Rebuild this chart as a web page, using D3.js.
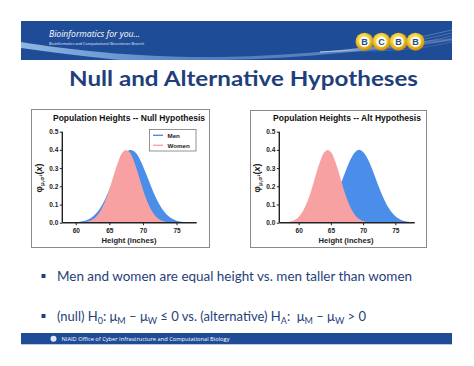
<!DOCTYPE html>
<html><head><meta charset="utf-8">
<script src="https://cdn.jsdelivr.net/npm/d3@7"></script>
<style>body{margin:0;background:#fff}svg{display:block}</style>
</head><body>
<script>
// ---------- data ----------
const heights = [57,57.5,58,58.5,59,59.5,60,60.5,61,61.5,62,62.5,63,63.5,64,64.5,65,65.5,66,66.5,67,67.5,68,68.5,69,69.5,70,70.5,71,71.5,72,72.5,73,73.5,74,74.5,75,75.5,76,76.5,77,77.5,78];
const womenNull = [0,0,0,0,0,0.0001,0.0004,0.0009,0.002,0.0044,0.0091,0.018,0.032,0.054,0.087,0.13,0.183,0.243,0.302,0.353,0.388,0.4,0.388,0.353,0.302,0.243,0.183,0.13,0.087,0.054,0.032,0.018,0.0091,0.0044,0.002,0.0009,0.0004,0.0001,0,0,0,0,0];
const menNull = [0,0.0001,0.0001,0.0003,0.0006,0.0012,0.0023,0.0042,0.0074,0.0127,0.0208,0.0329,0.05,0.073,0.103,0.14,0.182,0.228,0.276,0.32,0.358,0.385,0.399,0.397,0.381,0.351,0.312,0.266,0.219,0.173,0.132,0.097,0.068,0.046,0.03,0.019,0.011,0.0066,0.0037,0.002,0.001,0.0005,0.0002];
const womenAlt = [0.0004,0.0009,0.002,0.0044,0.0091,0.018,0.032,0.054,0.087,0.13,0.183,0.243,0.302,0.353,0.388,0.4,0.388,0.353,0.302,0.243,0.183,0.13,0.087,0.054,0.032,0.018,0.0091,0.0044,0.002,0.0009,0.0004,0.0001,0,0,0,0,0,0,0,0,0,0,0];
const menAlt = [0,0,0,0,0.0001,0.0002,0.0004,0.0009,0.0018,0.0033,0.0059,0.0103,0.0172,0.0275,0.0425,0.063,0.09,0.124,0.164,0.21,0.257,0.303,0.344,0.376,0.395,0.4,0.389,0.364,0.329,0.285,0.238,0.191,0.148,0.11,0.079,0.054,0.036,0.023,0.014,0.0083,0.0047,0.0026,0.0014];
const yTicks = [0,0.1,0.2,0.3,0.4,0.5];
const xTicks = [60,65,70,75];
const seriesNames = ["Men","Women"];
const chartTitles = ["Population Heights -- Null Hypothesis","Population Heights -- Alt Hypothesis"];
const xTitle = "Height (inches)";
const slideTitle = "Null and Alternative Hypotheses";
const bullet1 = "Men and women are equal height vs. men taller than women";

const BLUE = "#4a8eea", PINK = "#f7a1a3", NAVY = "#1f3f7a", BAND = "#1f4c96";
const AF = "Liberation Sans, Arial, sans-serif";

const svg = d3.select("body").append("svg").attr("width",474).attr("height",366);
const defs = svg.append("defs");

// ---------- header ----------
const hg = defs.append("linearGradient").attr("id","wave").attr("x1","0").attr("x2","1");
hg.append("stop").attr("offset","0").attr("stop-color","#9cc3ee").attr("stop-opacity",0.9);
hg.append("stop").attr("offset","0.45").attr("stop-color","#6fa0dc").attr("stop-opacity",0.6);
hg.append("stop").attr("offset","1").attr("stop-color","#ffffff").attr("stop-opacity",0.15);
svg.append("rect").attr("x",21).attr("y",21).attr("width",431).attr("height",39).attr("fill",BAND);
svg.append("path").attr("d","M21,42 C70,50 140,58 220,57 C300,56 380,46 452,38 L452,41 C380,49 300,59 220,60 L120,60 C80,56 50,52 21,48 Z").attr("fill","url(#wave)");
const lines = [[36,0.5],[39,0.45],[42,0.4],[45,0.35],[48,0.3]];
lines.forEach(([yy,o])=>{
  svg.append("path").attr("d",`M320,52 C360,50 400,${yy+6} 452,${yy-6}`).attr("fill","none").attr("stroke","#cfe0f7").attr("stroke-opacity",o).attr("stroke-width",0.6);
});
svg.append("text").attr("x",49).attr("y",37).attr("fill","#fff").attr("font-family","Open Sans, sans-serif").attr("font-style","italic").attr("font-size",9.5).attr("textLength",91).attr("lengthAdjust","spacingAndGlyphs").text("Bioinformatics for you...");
svg.append("text").attr("x",49).attr("y",44.5).attr("fill","#e8eefa").attr("font-family","Open Sans, sans-serif").attr("font-size",3.4).attr("textLength",95).attr("lengthAdjust","spacingAndGlyphs").text("Bioinformatics and Computational Biosciences Branch");
const rg = defs.append("radialGradient").attr("id","gold").attr("cx","0.45").attr("cy","0.4").attr("r","0.6");
rg.append("stop").attr("offset","0").attr("stop-color","#fff6c0");
rg.append("stop").attr("offset","0.55").attr("stop-color","#f5cf3a");
rg.append("stop").attr("offset","1").attr("stop-color","#c98a05");
const logo = ["B","C","B","B"], logoX = [364.5,381.5,398.5,415.5];
logo.forEach((l,i)=>{
  svg.append("circle").attr("cx",logoX[i]).attr("cy",41.7).attr("r",9).attr("fill","url(#gold)");
  svg.append("circle").attr("cx",logoX[i]).attr("cy",41.7).attr("r",5.2).attr("fill","#fffbe8");
  svg.append("text").attr("x",logoX[i]).attr("y",45).attr("text-anchor","middle").attr("font-family",AF).attr("font-weight","bold").attr("font-size",9).attr("fill","#1f4c96").text(l);
});

// ---------- slide title ----------
svg.append("text").attr("x",69).attr("y",86).attr("fill",NAVY).attr("font-family","Lato, sans-serif").attr("font-weight","bold").attr("font-size",20).attr("textLength",349).attr("lengthAdjust","spacingAndGlyphs").text(slideTitle);

// ---------- charts ----------
function drawChart(cfg){
  const g = svg.append("g");
  g.append("rect").attr("x",cfg.box[0]).attr("y",cfg.box[1]).attr("width",cfg.box[2]).attr("height",cfg.box[3]).attr("fill","#fff").attr("stroke","#8a8a8a").attr("stroke-width",1);
  const x = d3.scaleLinear().domain(cfg.xdom).range(cfg.xr);
  const y = d3.scaleLinear().domain([0,0.5]).range([222.7,131.7]);
  const area = d3.area().x(d=>x(d[0])).y0(y(0)).y1(d=>y(d[1])).curve(d3.curveCatmullRom);
  const pts = arr => heights.map((h,i)=>[h,arr[i]]).filter(d=>d[0]>=cfg.xdom[0]&&d[0]<=cfg.xdom[1]);
  g.append("path").attr("d",area(pts(cfg.men))).attr("fill",BLUE);
  g.append("path").attr("d",area(pts(cfg.women))).attr("fill",PINK);
  const yAx = g.append("g").attr("transform",`translate(${cfg.xr[0]},0)`).call(d3.axisLeft(y).tickValues(yTicks).tickFormat(d3.format(".1f")).tickSize(2.5).tickPadding(1.5));
  const xAx = g.append("g").attr("transform",`translate(0,${y(0)})`).call(d3.axisBottom(x).tickValues(xTicks).tickSize(2.5).tickPadding(3));
  [yAx,xAx].forEach(a=>{
    a.select(".domain").attr("stroke","#222").attr("stroke-width",1.4);
    a.selectAll(".tick line").attr("stroke","#222").attr("stroke-width",1);
    a.selectAll("text").attr("font-family",AF).attr("font-weight","bold").attr("font-size",6.5).attr("fill","#222");
  });
  yAx.select(".domain").attr("d",`M0,${y(0.5)}V${y(0)}`);
  xAx.select(".domain").attr("d",`M${cfg.xr[0]},0H${cfg.xr[1]}`);
  g.append("text").attr("x",cfg.titleX).attr("y",121.3).attr("text-anchor","middle").attr("font-family",AF).attr("font-weight","bold").attr("font-size",8.6).attr("textLength",cfg.titleW).attr("lengthAdjust","spacingAndGlyphs").attr("fill","#111").text(cfg.title);
  g.append("text").attr("x",cfg.axisTitleX).attr("y",242.8).attr("text-anchor","middle").attr("font-family",AF).attr("font-weight","bold").attr("font-size",7.6).attr("fill","#222").text(xTitle);
  const yl = g.append("text").attr("transform",`translate(${cfg.ylabX},178) rotate(-90)`).attr("text-anchor","middle").attr("font-family",AF).attr("font-weight","bold").attr("font-size",9).attr("fill","#222");
  yl.append("tspan").text("φ");
  yl.append("tspan").attr("font-size",6).attr("dy",2).text("μ,σ²");
  yl.append("tspan").attr("dy",-2).text("(");
  yl.append("tspan").attr("font-style","italic").text("x");
  yl.append("tspan").text(")");
  if(cfg.legend){
    const L = g.append("g");
    L.append("rect").attr("x",149.5).attr("y",129.5).attr("width",46.5).attr("height",21.5).attr("fill","#fff").attr("stroke","#666").attr("stroke-width",0.7);
    const cols=[BLUE,PINK];
    seriesNames.forEach((s,i)=>{
      const yy = 135.3 + i*10;
      L.append("line").attr("x1",153).attr("x2",163).attr("y1",yy).attr("y2",yy).attr("stroke",cols[i]).attr("stroke-width",1.4);
      L.append("text").attr("x",167.5).attr("y",yy+2.2).attr("font-family",AF).attr("font-weight","bold").attr("font-size",6.2).attr("fill","#222").text(s);
    });
  }
}
drawChart({box:[31.5,109.5,178,138],xdom:[58,78],xr:[62.3,196.7],men:menNull,women:womenNull,title:chartTitles[0],titleW:152,titleX:129,axisTitleX:129,ylabX:41.5,legend:true});
drawChart({box:[250.5,110.5,176,137],xdom:[57,78],xr:[279.3,414.7],men:menAlt,women:womenAlt,title:chartTitles[1],titleW:148,titleX:347,axisTitleX:346,ylabX:259.5,legend:false});

// ---------- bullets ----------
const bf = "Lato, sans-serif";
[276.5,316.5].forEach(yy=>svg.append("rect").attr("x",41.5).attr("y",yy-2.5).attr("width",4).attr("height",4).attr("fill",NAVY));
svg.append("text").attr("x",57).attr("y",281).attr("fill",NAVY).attr("font-family",bf).attr("font-size",13.5).attr("textLength",355).attr("lengthAdjust","spacingAndGlyphs").text(bullet1);
const b2 = svg.append("text").attr("x",57).attr("y",321).attr("fill",NAVY).attr("font-family",bf).attr("font-size",13).style("white-space","pre");
const parts = [["(null) H",0],["0",1],[": μ",0],["M",1],[" – μ",0],["W",1],[" ≤ 0 vs. (alternative) H",0],["A",1],[":  μ",0],["M",1],[" – μ",0],["W",1],[" > 0",0]];
let sub=false;
parts.forEach(([t,s])=>{
  const ts = b2.append("tspan").text(t);
  if(s){ ts.attr("font-size",9).attr("dy",sub?0:3); sub=true; }
  else { ts.attr("dy",sub?-3:0); sub=false; }
});

// ---------- footer ----------
svg.append("rect").attr("x",21).attr("y",333).attr("width",431).attr("height",11.3).attr("fill",BAND);
svg.append("circle").attr("cx",53.5).attr("cy",338.7).attr("r",3).attr("fill","#dfe8f5");
svg.append("text").attr("x",61.5).attr("y",340.5).attr("fill","#fff").attr("font-family","Open Sans, sans-serif").attr("font-size",4.6).attr("textLength",168).attr("lengthAdjust","spacingAndGlyphs").text("NIAID Office of Cyber Infrastructure and Computational Biology");
</script>
</body></html>
